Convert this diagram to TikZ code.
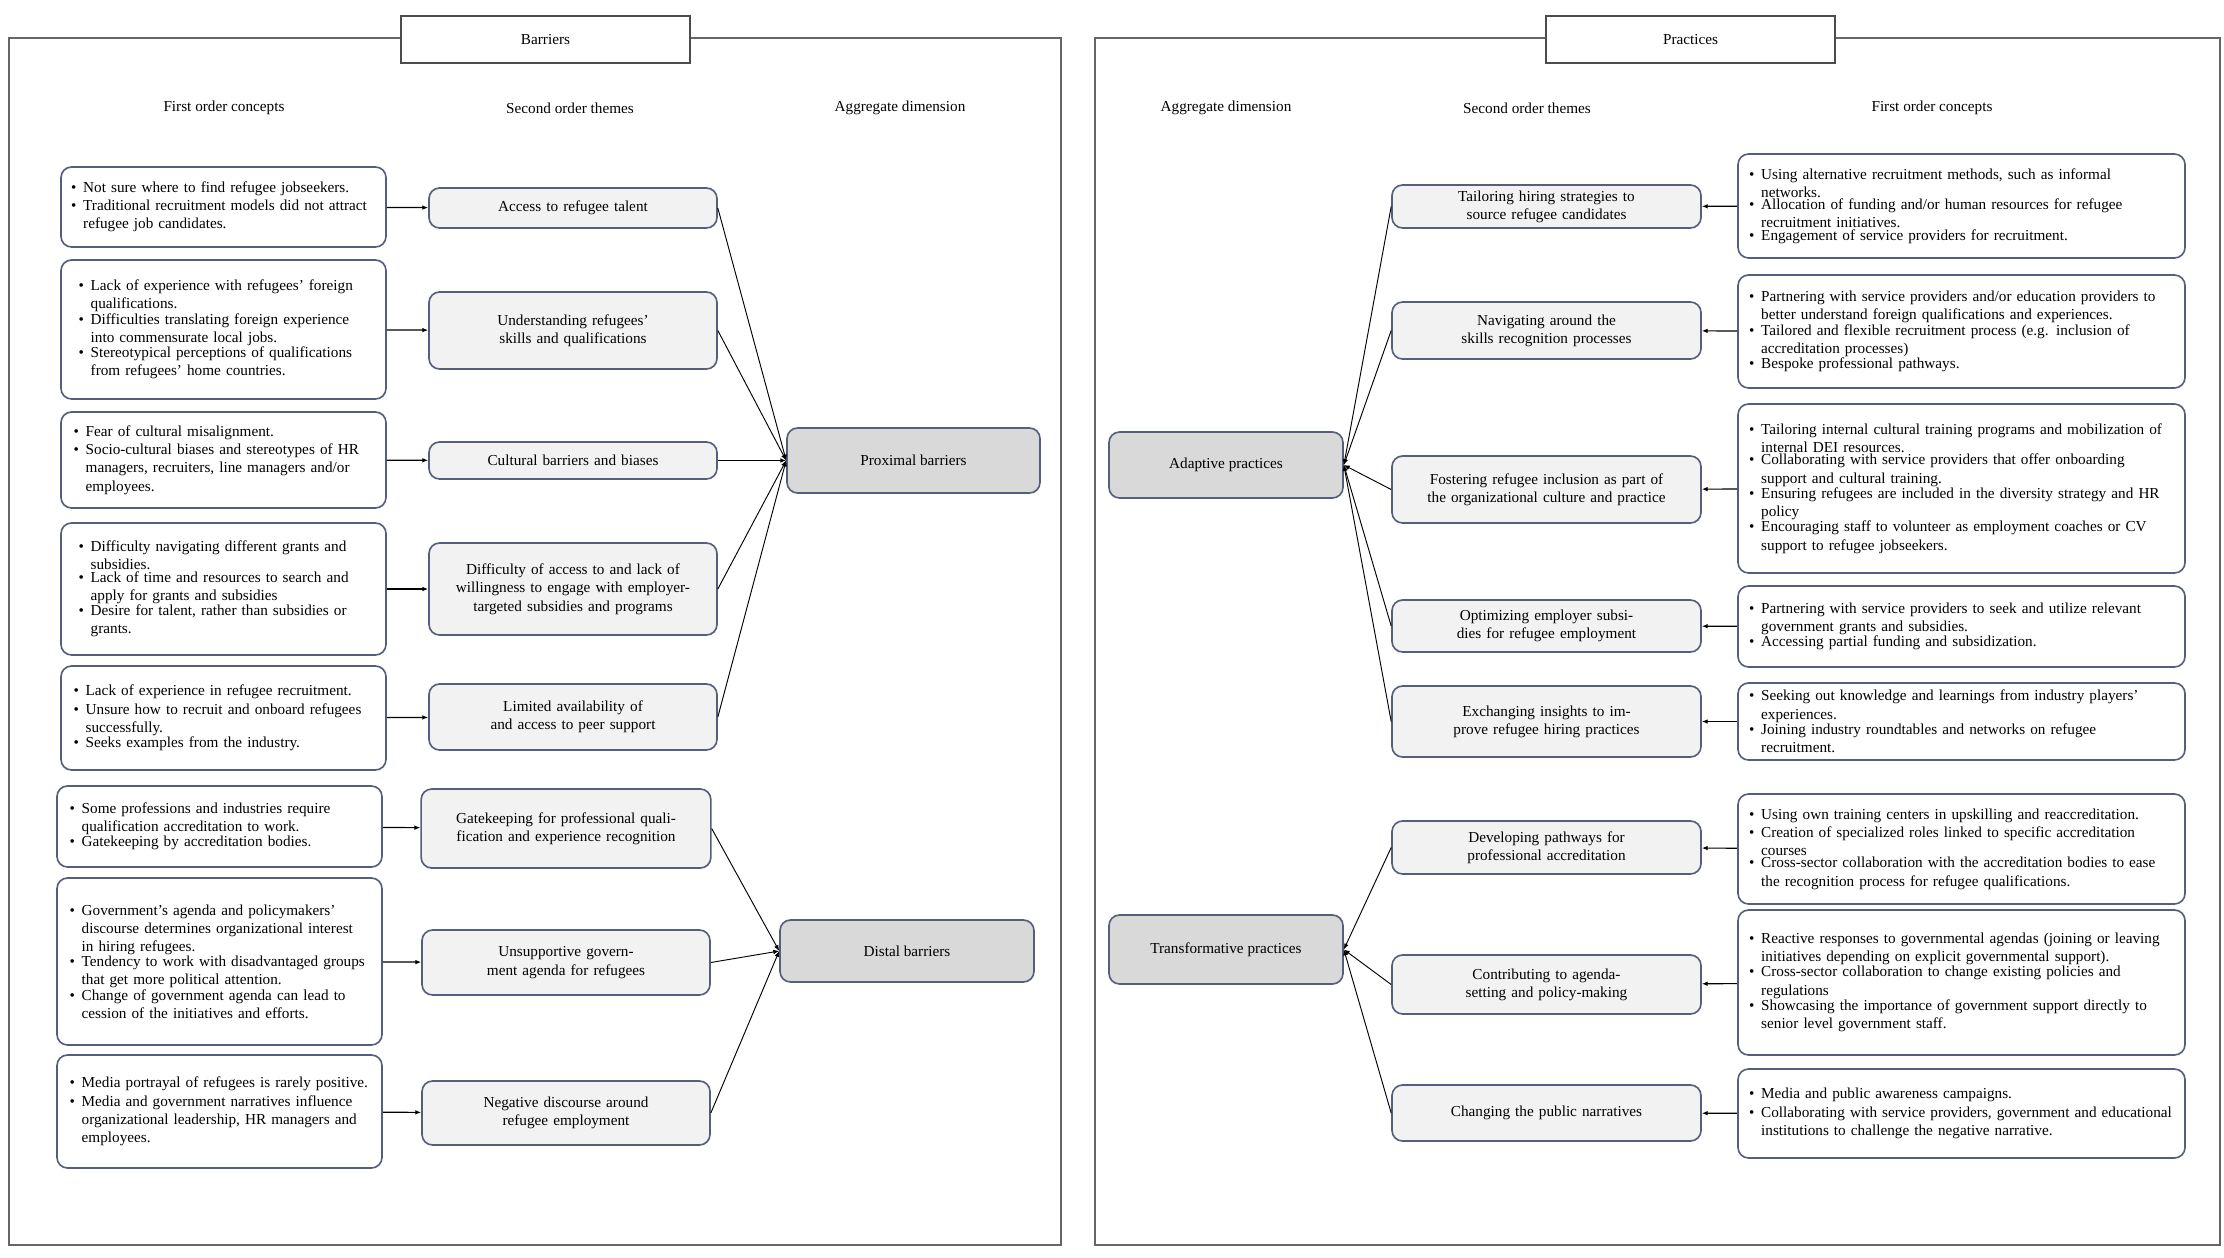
\documentclass[tikz,border=0pt]{standalone}
\usepackage{fontspec}
\setmainfont{Liberation Serif}
\usetikzlibrary{arrows.meta}
\definecolor{bord}{RGB}{85,95,125}
\newlength\bitemw
\newcommand\bitem[1]{\setlength\bitemw{\linewidth}\addtolength\bitemw{-0.8em}\noindent\makebox[0.8em][l]{\textbullet}\parbox[t]{\bitemw}{\raggedright\hyphenpenalty=10000 #1}\par}
\newcommand\bx[7]{\node[#6,minimum width={(#4-#2)*0.03cm},minimum height={(#5-#3)*0.03cm}] (#1) at ({(#2+#4)/2},{(#3+#5)/2}) {#7};}
\tikzset{
  base/.style={draw=bord,line width=1.4pt,rounded corners=9pt,inner sep=2pt,font=\fontsize{13}{15.6}\selectfont},
  fo/.style={base,fill=white,align=left,text width={(#1)*0.03cm}},
  so/.style={base,fill=gray!10,align=center,text width={(#1)*0.03cm}},
  agg/.style={base,fill=gray!30,align=center},
  frame/.style={draw=black!60,line width=1.5pt},
  ttl/.style={draw=black!70,line width=1.3pt,fill=white,font=\fontsize{13}{15}\selectfont},
  hd/.style={font=\fontsize{13}{15}\selectfont},
  arr/.style={-{Latex[length=5pt,width=4pt]},line width=1pt},
  ln/.style={-{Latex[length=5pt,width=4pt]},line width=0.8pt}
}
\begin{document}
\begin{tikzpicture}[x=0.03cm,y=-0.03cm]
\useasboundingbox (0,0) rectangle (2224,1257);
\fill[white] (0,0) rectangle (2224,1257);
\draw[frame] (9,38) rectangle (1061,1245);
\draw[frame] (1095,38) rectangle (2220,1245);
\bx{tb}{401}{16}{690}{63}{ttl}{Barriers}
\bx{tp}{1546}{16}{1835}{63}{ttl}{Practices}
\node[hd] (h1) at (224,108) {First order concepts};
\node[hd] (h2) at (570,108) {Second order themes};
\node[hd] (h3) at (900,108) {Aggregate dimension};
\node[hd] (h4) at (1226,108) {Aggregate dimension};
\node[hd] (h5) at (1527,108) {Second order themes};
\node[hd] (h6) at (1932,108) {First order concepts};
% left first order
\bx{l1}{61}{167}{386}{247}{fo=305}{\bitem{Not sure where to find refugee jobseekers.}\bitem{Traditional recruitment models did not attract refugee job candidates.}}
\bx{l2}{61}{260}{386}{399}{fo=290}{\bitem{Lack of experience with refugees' foreign qualifications.}\bitem{Difficulties translating foreign experience into commensurate local jobs.}\bitem{Stereotypical perceptions of qualifications from refugees' home countries.}}
\bx{l3}{61}{412}{386}{508}{fo=300}{\bitem{Fear of cultural misalignment.}\bitem{Socio-cultural biases and stereotypes of HR managers, recruiters, line managers and/or employees.}}
\bx{l4}{61}{523}{386}{655}{fo=290}{\bitem{Difficulty navigating different grants and subsidies.}\bitem{Lack of time and resources to search and apply for grants and subsidies}\bitem{Desire for talent, rather than subsidies or grants.}}
\bx{l5}{61}{666}{386}{770}{fo=300}{\bitem{Lack of experience in refugee recruitment.}\bitem{Unsure how to recruit and onboard refugees successfully.}\bitem{Seeks examples from the industry.}}
\bx{l6}{57}{786}{382}{867}{fo=300}{\bitem{Some professions and industries require qualification accreditation to work.}\bitem{Gatekeeping by accreditation bodies.}}
\bx{l7}{57}{878}{382}{1045}{fo=300}{\bitem{Government's agenda and policymakers' discourse determines organizational interest in hiring refugees.}\bitem{Tendency to work with disadvantaged groups that get more political attention.}\bitem{Change of government agenda can lead to cession of the initiatives and efforts.}}
\bx{l8}{57}{1055}{382}{1168}{fo=300}{\bitem{Media portrayal of refugees is rarely positive.}\bitem{Media and government narratives influence organizational leadership, HR managers and employees.}}
% left second order
\bx{s1}{429}{188}{717}{228}{so=265}{Access to refugee talent}
\bx{s2}{429}{292}{717}{369}{so=250}{Understanding refugees' skills and qualifications}
\bx{s3}{429}{442}{717}{479}{so=265}{Cultural barriers and biases}
\bx{s4}{429}{543}{717}{635}{so=250}{Difficulty of access to and lack of willingness to engage with employer-targeted subsidies and programs}
\bx{s5}{429}{684}{717}{750}{so=275}{Limited availability of and access to peer support}
\bx{s6}{422}{789}{710}{868}{so=285}{Gatekeeping for professional qualification and experience recognition}
\bx{s7}{422}{930}{710}{995}{so=260}{Unsupportive government agenda for refugees}
\bx{s8}{422}{1081}{710}{1145}{so=250}{Negative discourse around refugee employment}
\bx{pb}{787}{428}{1040}{493}{agg}{Proximal barriers}
\bx{db}{780}{920}{1034}{982}{agg}{Distal barriers}
\foreach \i in {1,...,8}{\draw[arr] (l\i) -- (s\i);}
\foreach \i in {1,...,5}{\draw[ln] (s\i.east) -- (pb.west);}
\foreach \i in {6,7,8}{\draw[ln] (s\i.east) -- (db.west);}
% right
\bx{ap}{1109}{432}{1343}{498}{agg}{Adaptive practices}
\bx{tpr}{1109}{915}{1343}{984}{agg}{Transformative practices}
\bx{r1}{1392}{185}{1701}{228}{so=300}{Tailoring hiring strategies to source refugee candidates}
\bx{r2}{1392}{302}{1701}{359}{so=290}{Navigating around the skills recognition processes}
\bx{r3}{1392}{456}{1701}{523}{so=290}{Fostering refugee inclusion as part of the organizational culture and practice}
\bx{r4}{1392}{600}{1701}{652}{so=290}{Optimizing employer subsidies for refugee employment}
\bx{r5}{1392}{686}{1701}{757}{so=270}{Exchanging insights to improve refugee hiring practices}
\bx{r6}{1392}{821}{1701}{874}{so=270}{Developing pathways for professional accreditation}
\bx{r7}{1392}{955}{1701}{1014}{so=300}{Contributing to agenda-setting and policy-making}
\bx{r8}{1392}{1085}{1701}{1141}{so=270}{Changing the public narratives}
\bx{f1}{1738}{154}{2185}{258}{fo=425}{\bitem{Using alternative recruitment methods, such as informal networks.}\bitem{Allocation of funding and/or human resources for refugee recruitment initiatives.}\bitem{Engagement of service providers for recruitment.}}
\bx{f2}{1738}{275}{2185}{388}{fo=425}{\bitem{Partnering with service providers and/or education providers to better understand foreign qualifications and experiences.}\bitem{Tailored and flexible recruitment process (e.g. inclusion of accreditation processes)}\bitem{Bespoke professional pathways.}}
\bx{f3}{1738}{404}{2185}{573}{fo=425}{\bitem{Tailoring internal cultural training programs and mobilization of internal DEI resources.}\bitem{Collaborating with service providers that offer onboarding support and cultural training.}\bitem{Ensuring refugees are included in the diversity strategy and HR policy}\bitem{Encouraging staff to volunteer as employment coaches or CV support to refugee jobseekers.}}
\bx{f4}{1738}{586}{2185}{667}{fo=425}{\bitem{Partnering with service providers to seek and utilize relevant government grants and subsidies.}\bitem{Accessing partial funding and subsidization.}}
\bx{f5}{1738}{683}{2185}{760}{fo=425}{\bitem{Seeking out knowledge and learnings from industry players' experiences.}\bitem{Joining industry roundtables and networks on refugee recruitment.}}
\bx{f6}{1738}{794}{2185}{904}{fo=425}{\bitem{Using own training centers in upskilling and reaccreditation.}\bitem{Creation of specialized roles linked to specific accreditation courses}\bitem{Cross-sector collaboration with the accreditation bodies to ease the recognition process for refugee qualifications.}}
\bx{f7}{1738}{910}{2185}{1055}{fo=425}{\bitem{Reactive responses to governmental agendas (joining or leaving initiatives depending on explicit governmental support).}\bitem{Cross-sector collaboration to change existing policies and regulations}\bitem{Showcasing the importance of government support directly to senior level government staff.}}
\bx{f8}{1738}{1069}{2185}{1158}{fo=425}{\bitem{Media and public awareness campaigns.}\bitem{Collaborating with service providers, government and educational institutions to challenge the negative narrative.}}
\foreach \i in {1,...,8}{\draw[arr] (f\i) -- (r\i);}
\foreach \i in {1,...,5}{\draw[ln] (r\i.west) -- (ap.east);}
\foreach \i in {6,7,8}{\draw[ln] (r\i.west) -- (tpr.east);}
\end{tikzpicture}
\end{document}
